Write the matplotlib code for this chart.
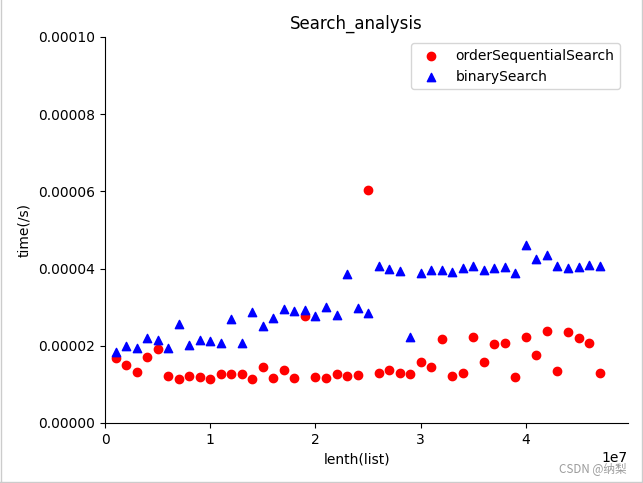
import matplotlib
matplotlib.use("Agg")
import matplotlib.pyplot as plt
from matplotlib.lines import Line2D

lengths = [i * 1000000 for i in range(1, 48)]
order_us = [16.76, 14.95, 13.2, 17.0, 19.1, 12.1, 11.3, 12.1, 11.8, 11.3, 12.6, 12.6, 12.8, 11.3, 14.4, 11.6,
            13.65, 11.6, 27.8, 11.8, 11.6, 12.6, 12.1, 12.4, 60.3, 12.9, 13.65, 12.9, 12.6, 15.7, 14.4, 21.7,
            12.1, 12.9, 22.2, 15.7, 20.4, 20.6, 11.8, 22.2, 17.5, 23.8, 13.4, 23.5, 21.9, 20.6, 12.9]
binary_us = [18.4, 19.9, 19.4, 22.1, 21.5, 19.4, 25.7, 20.2, 21.5, 21.2, 20.7, 27.0, 20.7, 28.8, 25.2, 27.3,
             29.5, 29.0, 29.3, 27.8, 30.1, 28.1, 38.7, 29.9, 28.4, 40.8, 40.0, 39.5, 22.4, 38.9, 39.7, 39.7,
             39.2, 40.2, 40.8, 39.7, 40.2, 40.5, 38.9, 46.0, 42.6, 43.4, 40.8, 40.2, 40.5, 41.0, 40.8]
order_s = [v * 1e-6 for v in order_us]
binary_s = [v * 1e-6 for v in binary_us]
yticks = [0, 0.00002, 0.00004, 0.00006, 0.00008, 0.0001]

W, H = 643, 483
fig = plt.figure(figsize=(W / 100, H / 100), dpi=100)
ax = fig.add_axes([105 / W, 1 - 423 / H, 523 / W, 386 / H])
ax.scatter(lengths, order_s, c="red", marker="o", label="orderSequentialSearch", zorder=2)
ax.scatter(lengths, binary_s, c="blue", marker="^", label="binarySearch", zorder=3)
ax.set_xlim(0, 4.97e7)
ax.set_ylim(0, 0.0001)
ax.set_yticks(yticks)
ax.set_yticklabels([f"{t:.5f}" for t in yticks])
ax.spines["top"].set_visible(False)
ax.spines["right"].set_visible(False)
ax.set_title("Search_analysis", x=(356.5 - 105) / 523)
ax.set_xlabel("lenth(list)", x=(357 - 105) / 523)
ax.set_ylabel("time(/s)", labelpad=5)
ax.legend(loc="upper right", bbox_to_anchor=(522 / 523, 1.002))

fig.text(627 / W, 1 - 472 / H, "CSDN @纳梨", color="#9c9c9c", fontsize=8.4, ha="right", va="baseline",
         family=["Noto Sans CJK SC", "DejaVu Sans"])
for xs, ys in [((0.5 / W, 0.5 / W), (0, 1)), ((0, 1), (1.5 / H, 1.5 / H)), ((1 - 1 / W, 1 - 1 / W), (0, 1))]:
    fig.add_artist(Line2D(xs, ys, color="#cccccc", lw=1))
fig.savefig("out.png", dpi=100)
